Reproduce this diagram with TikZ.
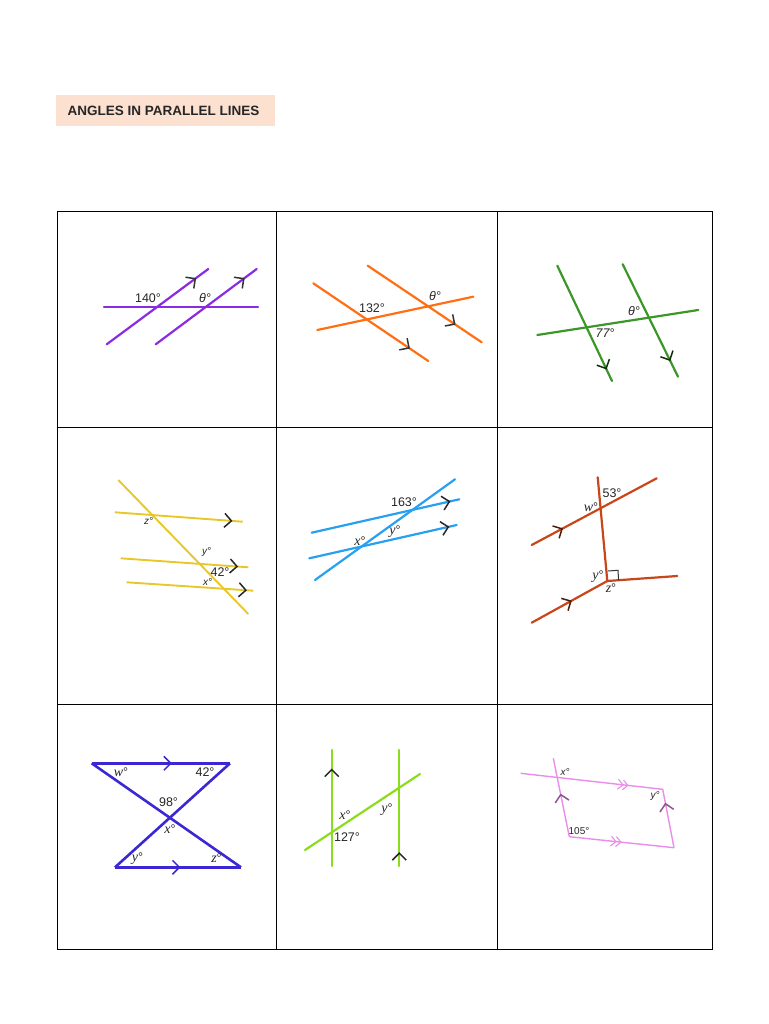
\documentclass[tikz,border=0pt]{standalone}
\usepackage{fontspec}
\setmainfont{Liberation Sans}
\newfontfamily\varfont{Liberation Serif}
\newcommand{\vv}[1]{{\varfont\itshape\fontsize{14}{16}\selectfont #1}}
\usetikzlibrary{arrows.meta,decorations.markings}
\definecolor{peach}{RGB}{252,224,208}
\definecolor{cpurple}{RGB}{138,43,226}
\definecolor{corange}{RGB}{255,112,20}
\definecolor{cgreen}{RGB}{60,150,40}
\definecolor{cyellow}{RGB}{232,200,40}
\definecolor{cblue}{RGB}{40,160,240}
\definecolor{crust}{RGB}{200,70,25}
\definecolor{cindigo}{RGB}{60,40,210}
\definecolor{clime}{RGB}{140,220,30}
\definecolor{cpink}{RGB}{235,140,235}
\tikzset{
  grid line/.style={draw=black,line width=0.9pt},
  geo/.style={line width=2.2pt,line cap=round},
  chev/.style 2 args={postaction={decorate,decoration={markings,
     mark=at position #1 with {\arrow[#2,line width=1.5pt]{Straight Barb[length=7pt,width=14pt]}}}}},
  dchev/.style 2 args={postaction={decorate,decoration={markings,
     mark=at position #1 with {\arrow[#2,line width=1.1pt]{Straight Barb[length=5pt,width=10pt]}\arrow[#2,line width=1.1pt,xshift=-5pt]{Straight Barb[length=5pt,width=10pt]}}}}},
  lab/.style={inner sep=0pt,font=\fontsize{12.5}{14}\selectfont,text=black!85},
  slab/.style={inner sep=0pt,font=\fontsize{10}{12}\selectfont,text=black!85},
}
\begin{document}
\begin{tikzpicture}[x=1pt,y=-1pt]
\useasboundingbox (0,0) rectangle (768,1024);
% title
\node[fill=peach,minimum width=219pt,minimum height=31pt,anchor=north west,inner sep=0pt] (titlebox) at (56,95) {};
\node[anchor=west,font=\bfseries\fontsize{13.5}{16}\selectfont,text=black!85] (title) at (64,110.5) {ANGLES IN PARALLEL LINES};
% table
\draw[grid line] (57,211) rectangle (712,949);
\draw[grid line] (276,211) -- (276,949);
\draw[grid line] (497,211) -- (497,949);
\draw[grid line] (57,427) -- (712,427);
\draw[grid line] (57,704) -- (712,704);

% ---- cell 1
\draw[geo,cpurple] (104,307) -- (258,307);
\draw[geo,cpurple,chev={0.88}{black!80}] (106.7,344.3) -- (208.3,269);
\draw[geo,cpurple,chev={0.88}{black!80}] (155.7,344.3) -- (256.7,269);
\node[lab] (a1) at (148,298.5) {140°};
\node[lab] (t1) at (205,298.5) {\itshape θ°};

% ---- cell 2
\draw[geo,corange,chev={0.84}{black!80}] (313.3,283.3) -- (428.3,361);
\draw[geo,corange,chev={0.77}{black!80}] (367.7,265.7) -- (481.7,342.3);
\draw[geo,corange] (317.3,330) -- (473.3,296.7);
\node[lab] (a2) at (372,308.5) {132°};
\node[lab] (t2) at (435,296.5) {\itshape θ°};

% ---- cell 3
\draw[geo,cgreen,chev={0.9}{black!70!cgreen}] (557.3,265.7) -- (612,381);
\draw[geo,cgreen,chev={0.86}{black!70!cgreen}] (622.7,264.3) -- (678,376.7);
\draw[geo,cgreen] (537.3,335) -- (698.3,310);
\node[lab] (t3) at (634,311.5) {\itshape θ°};
\node[lab] (a3) at (605,333.5) {\itshape 77°};

% ---- cell 4
\draw[line width=1.9pt,cyellow] (118.3,480) -- (248.3,614);
\draw[line width=1.9pt,cyellow,chev={0.92}{black!85}] (115,512.3) -- (242.7,521.7);
\draw[line width=1.9pt,cyellow,chev={0.92}{black!85}] (120.7,558.3) -- (248.3,567.3);
\draw[line width=1.9pt,cyellow,chev={0.95}{black!85}] (126.7,582.3) -- (253.3,590.7);
\node[slab] (z4) at (148.5,521.5) {\itshape z°};
\node[slab] (y4) at (206.5,552.5) {\itshape y°};
\node[lab] (a4) at (220,572) {42°};
\node[slab] (x4) at (207.5,582.5) {\itshape x°};

% ---- cell 5
\draw[geo,cblue] (315,580) -- (455,479.3);
\draw[geo,cblue,chev={0.94}{black!85}] (311.7,532.7) -- (459.3,499.3);
\draw[geo,cblue,chev={0.95}{black!85}] (309.3,558.3) -- (456.7,525);
\node[lab] (a5) at (404,502.5) {163°};
\node[lab] (y5) at (395,532) {\vv{y}°};
\node[lab] (x5) at (360,541.5) {\vv{x}°};

% ---- cell 6
\coordinate (j6) at (607.3,581);
\draw[geo,crust,chev={0.25}{black!60!crust}] (531.7,545) -- (656.7,478.3);
\draw[geo,crust] (597.7,477.3) -- (j6);
\draw[geo,crust,chev={0.53}{black!60!crust}] (531.7,622.7) -- (j6);
\draw[geo,crust] (j6) -- (677.3,576);
\draw[line width=1pt,black!80] (607.8,571) -- (618,570.3) -- (618.6,580.3);
\node[lab] (a6) at (612,493.5) {53°};
\node[lab] (w6) at (591,507.5) {\vv{w}°};
\node[lab] (y6) at (598,576.5) {\vv{y}°};
\node[lab] (z6) at (611,588.5) {\vv{z}°};

% ---- cell 7
\draw[line width=2.6pt,cindigo,line join=round,chev={0.58}{cindigo}] (91.7,763.3) -- (230,763.3);
\draw[line width=2.6pt,cindigo,line join=round,chev={0.52}{cindigo}] (115,867.3) -- (241,867.3);
\draw[line width=2.6pt,cindigo] (91.7,763.3) -- (241,867.3);
\draw[line width=2.6pt,cindigo] (230,763.3) -- (115,867.3);
\node[lab] (w7) at (121,772) {\vv{w}°};
\node[lab] (a7) at (205,772) {42°};
\node[lab] (b7) at (168.5,802) {98°};
\node[lab] (x7) at (170,829.5) {\vv{x}°};
\node[lab] (y7) at (137.5,858.5) {\vv{y}°};
\node[lab] (z7) at (216.5,858.5) {\vv{z}°};

% ---- cell 8
\draw[geo,clime,chev={0.84}{black!85}] (331.7,866) -- (331.7,750);
\draw[geo,clime,chev={0.12}{black!85}] (399.3,866) -- (399.3,750);
\draw[geo,clime] (305,850) -- (420,774);
\node[lab] (x8) at (345,815.5) {\vv{x}°};
\node[lab] (a8) at (347,837.5) {127°};
\node[lab] (y8) at (387,809.5) {\vv{y}°};

% ---- cell 9
\draw[line width=1.4pt,cpink,dchev={0.76}{cpink}] (520.7,773.3) -- (662.7,789.3);
\draw[line width=1.4pt,cpink,chev={0.55}{black!40!cpink}] (569.3,836.7) -- (553.3,758.3);
\draw[line width=1.4pt,cpink,chev={0.77}{black!40!cpink}] (674,847.7) -- (662.7,789.3);
\draw[line width=1.4pt,cpink,dchev={0.5}{cpink}] (569.3,836.7) -- (674,847.7);
\node[slab] (x9) at (565,772) {\itshape x°};
\node[slab] (y9) at (655,796) {\itshape y°};
\node[slab] (a9) at (579,831) {105°};
\end{tikzpicture}
\end{document}
